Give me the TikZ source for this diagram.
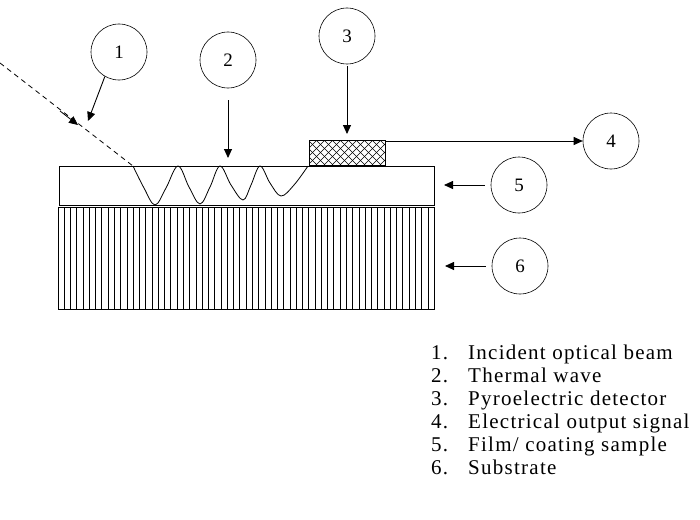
\documentclass[tikz,border=0pt]{standalone}
\usepackage{fontspec}
\setmainfont{Liberation Serif}
\newfontfamily\legfont[LetterSpace=6]{Liberation Serif}
\usetikzlibrary{arrows.meta}
\begin{document}
\begin{tikzpicture}[x=1pt,y=-1pt,
  num/.style={draw,circle,minimum size=56pt,inner sep=0pt,font=\fontsize{19}{19}\selectfont,line width=0.6pt},
  arr/.style={-{Triangle[length=9pt,width=8pt]},line width=0.9pt},
  leg/.style={anchor=base west,font=\legfont\fontsize{21}{21}\selectfont,inner sep=0pt}]
\useasboundingbox (0,0) rectangle (700,519);
% film
\node[draw,line width=0.7pt,minimum width=375pt,minimum height=39pt,inner sep=0pt,anchor=north west] (film) at (59,166) {};
% substrate
\node[draw,line width=1pt,minimum width=376pt,minimum height=102pt,inner sep=0pt,anchor=north west] (sub) at (58,207) {};
\foreach \i in {0,...,60} \draw[line width=0.8pt] ({58+\i*6.27},207) -- ({58+\i*6.27},309);
% detector
\node[draw,line width=1.2pt,minimum width=76pt,minimum height=25pt,inner sep=0pt,anchor=north west] (det) at (309,140) {};
\begin{scope}
\clip (309,140) rectangle (385,165);
\foreach \i in {-4,...,12} {
  \draw[line width=0.6pt] ({300+\i*8},140) -- ({325+\i*8},165);
  \draw[line width=0.6pt] ({325+\i*8},140) -- ({300+\i*8},165);
}
\end{scope}
% wave
\draw[line width=0.8pt] plot[smooth,tension=0.6] coordinates {(133,166) (144,188) (155,205) (166,188) (178,166) (189,187) (200,204) (210,187) (220,166) (231,185) (243,200) (251,185) (260,166) (270,183) (281,196) (294,185) (308,166)};
% beam
\coordinate (b0) at (0,63);
\coordinate (b1) at (133,166);
\draw[dashed,line width=0.8pt,dash pattern=on 5pt off 4pt] (b0) -- (b1);
\draw[-{Triangle[length=9pt,width=8pt]},line width=0.8pt] (60,111) -- (78,125);
% circles
\node[num] (c1) at (119,52) {1};
\node[num] (c2) at (228,60) {2};
\node[num] (c3) at (347,36) {3};
\node[num] (c4) at (611,141) {4};
\node[num] (c5) at (519,185) {5};
\node[num] (c6) at (520,266) {6};
\coordinate (t1) at (88,121);
\coordinate (t2) at (228,158);
\coordinate (t3) at (347,134);
\coordinate (t5) at (444,185);
\coordinate (t6) at (445,266);
\draw[arr] (c1.240) -- (t1);
\draw[arr] (c2.south) ++(0,12) -- (t2);
\draw[arr] (c3.south) ++(0,2) -- (t3);
\draw[arr] (c5.west) ++(-6,0) -- (t5);
\draw[arr] (c6.west) ++(-6,0) -- (t6);
\draw[arr] (det.north east) ++(0,1) -- (c4.west);
% legend
\foreach \n/\t [count=\k from 0] in {1/{Incident optical beam},2/{Thermal wave},3/{Pyroelectric detector},4/{Electrical output signal},5/{Film/ coating sample},6/{Substrate}}{
  \node[leg] (n\n) at (431,{359+\k*23}) {\n.};
  \node[leg] (l\n) at (468,{359+\k*23}) {\t};
}
\end{tikzpicture}
\end{document}
